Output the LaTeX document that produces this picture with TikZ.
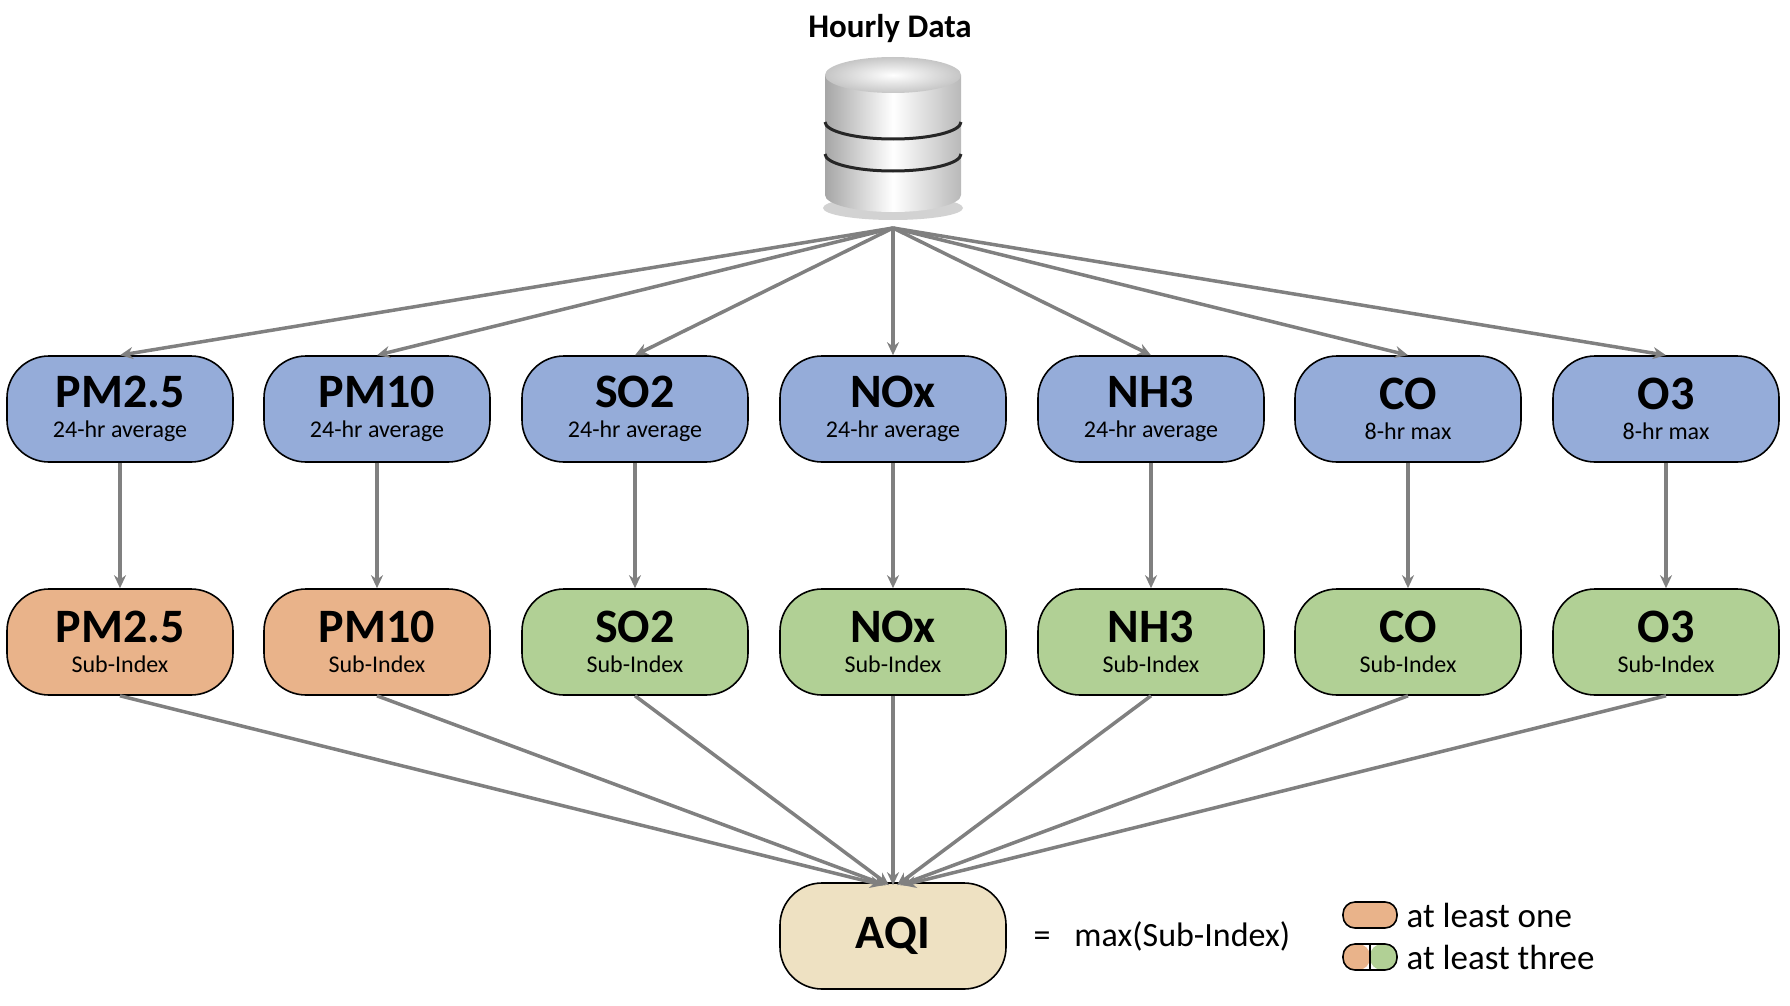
\documentclass[tikz,border=0pt]{standalone}
\usepackage{fontspec}
\setmainfont{Carlito}
\usetikzlibrary{arrows.meta,shadings}
\definecolor{blu}{HTML}{95ACD9}
\definecolor{org}{HTML}{E9B38A}
\definecolor{grn}{HTML}{B1D095}
\definecolor{beig}{HTML}{EEE1C2}
\definecolor{arr}{HTML}{808080}
\tikzset{
 pill/.style={draw=black,line width=1.6pt,rounded corners=42pt,minimum width=226pt,minimum height=106pt,align=center,inner sep=0pt},
 ar/.style={draw=arr,line width=3.5pt,-{Stealth[length=13pt,width=12pt]}},
}
\newcommand{\pilltext}[2]{{\fontsize{48}{50}\selectfont\bfseries #1}\\[12pt]{\fontsize{24}{26}\selectfont #2}}
\begin{document}
\begin{tikzpicture}[x=1pt,y=-1pt]
\useasboundingbox (0,0) rectangle (1790,1006);
\node[font=\fontsize{33}{35}\selectfont\bfseries] (title) at (890,29) {Hourly Data};
% database
\fill[black!35,opacity=0.5] (893,208) ellipse (70 and 12);
\shade[left color=gray!70,right color=gray!55,middle color=white]
  (825,75) -- (825,195) arc[start angle=180,end angle=360,x radius=68,y radius=-17] -- (961,75) -- cycle;
\shade[inner color=white,outer color=gray!45] (893,75) ellipse (68 and 18);
\draw[gray!30!black,line width=3pt] (825,122) arc[start angle=180,end angle=360,x radius=68,y radius=-17];
\draw[gray!30!black,line width=3pt] (825,154) arc[start angle=180,end angle=360,x radius=68,y radius=-17];
\coordinate (db) at (893,228);
% nodes
\foreach \n/\x/\t/\s/\c in {a/120/PM2.5/24-hr average/org,b/377/PM10/24-hr average/org,c/635/SO2/24-hr average/grn,d/893/NOx/24-hr average/grn,e/1151/NH3/24-hr average/grn,f/1408/CO/8-hr max/grn,g/1666/O3/8-hr max/grn}{
 \node[pill,fill=blu] (t\n) at (\x,409) {\pilltext{\t}{\s}};
 \node[pill,fill=\c] (s\n) at (\x,642) {\pilltext{\t}{Sub-Index}};
}
\node[pill,fill=beig,font=\fontsize{48}{50}\selectfont\bfseries] (aqi) at (893,936) {AQI};
\node[font=\fontsize{34}{36}\selectfont,anchor=west] (eq) at (1030,936) {=\hspace{24pt}max(Sub-Index)};
% arrows
\foreach \n in {a,b,c,d,e,f,g}{
 \draw[ar] (db) -- (t\n.north);
 \draw[ar] (t\n.south) -- (s\n.north);
}
\foreach \n/\dx in {a/-10,b/-7,c/-4,d/0,e/4,f/7,g/10}{
 \draw[ar] (s\n.south) -- ([xshift=\dx pt,yshift=-3pt]aqi.north);
}
% legend
\node[draw=black,line width=1.6pt,fill=org,rounded corners=12pt,minimum width=54pt,minimum height=26pt,inner sep=0pt] (l1) at (1370,915) {};
\node[font=\fontsize{35}{37}\selectfont,anchor=west] (l1t) at (1403,915) {at least one};
\node[draw=black,line width=1.6pt,rounded corners=12pt,minimum width=54pt,minimum height=26pt,inner sep=0pt,
  path picture={\fill[org] (path picture bounding box.south west) rectangle (path picture bounding box.north);
                \fill[grn] (path picture bounding box.south) rectangle (path picture bounding box.north east);
                \draw[line width=1.6pt] (path picture bounding box.south) -- (path picture bounding box.north);}] (l2) at (1370,957) {};
\node[font=\fontsize{35}{37}\selectfont,anchor=west] (l2t) at (1403,957) {at least three};
\end{tikzpicture}
\end{document}
